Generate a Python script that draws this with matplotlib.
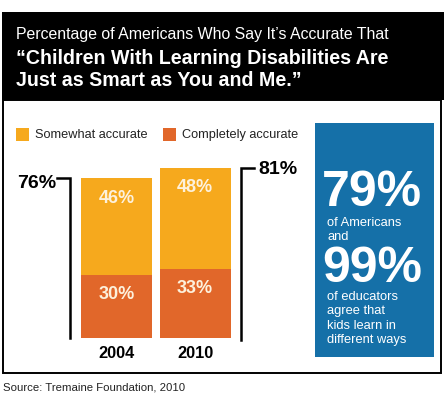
import matplotlib
matplotlib.use("Agg")
import matplotlib.pyplot as plt
from matplotlib.patches import Rectangle

plt.rcParams['font.family'] = ['Liberation Sans', 'DejaVu Sans']

# ---- data ----
years = ["2004", "2010"]
completely = [30, 33]
somewhat = [46, 48]
totals = [76, 81]
legend_labels = ["Somewhat accurate", "Completely accurate"]
title_line1 = "Percentage of Americans Who Say It\u2019s Accurate That"
title_line2 = "\u201cChildren With Learning Disabilities Are"
title_line3 = "Just as Smart as You and Me.\u201d"
stat_americans = "79%"
stat_educators = "99%"
source = "Source: Tremaine Foundation, 2010"

YELLOW = "#F6A91D"
ORANGE = "#E1672A"
BLUE = "#1570A8"
LABEL_WHITE = "#FDF1DC"

W, H, DPI = 446, 399, 100
fig = plt.figure(figsize=(W / DPI, H / DPI), dpi=DPI)

# overlay axes in pixel coordinates (y down)
ov = fig.add_axes([0, 0, 1, 1])
ov.set_xlim(0, W)
ov.set_ylim(H, 0)
ov.axis("off")

# header
ov.add_patch(Rectangle((2, 12), 442, 88, facecolor="black", edgecolor="none"))
ov.text(16, 35, title_line1, color="white", fontsize=11.4, va="center", ha="left")
ov.text(16, 58, title_line2, color="white", fontsize=14.1, fontweight="bold", va="center", ha="left")
ov.text(16, 80, title_line3, color="white", fontsize=14.1, fontweight="bold", va="center", ha="left")

# white frame
ov.add_patch(Rectangle((3, 100), 438, 273, facecolor="none", edgecolor="black", linewidth=1.4))

# legend
ov.add_patch(Rectangle((16, 128), 13, 13, facecolor=YELLOW, edgecolor="none"))
ov.text(35, 135, legend_labels[0], fontsize=9.2, va="center", ha="left", color="#222222")
ov.add_patch(Rectangle((163, 128), 13, 13, facecolor=ORANGE, edgecolor="none"))
ov.text(182, 135, legend_labels[1], fontsize=9.2, va="center", ha="left", color="#222222")

# blue box
ov.add_patch(Rectangle((315, 123), 119, 234, facecolor=BLUE, edgecolor="none"))
ov.text(322, 193, stat_americans, color="white", fontsize=36, fontweight="bold", va="center", ha="left")
ov.text(327, 223, "of Americans", color="white", fontsize=9.3, va="center", ha="left")
ov.text(327, 237, "and", color="white", fontsize=9.3, va="center", ha="left")
ov.text(322, 269, stat_educators, color="white", fontsize=36, fontweight="bold", va="center", ha="left")
for i, line in enumerate(["of educators", "agree that", "kids learn in", "different ways"]):
    ov.text(327, 297 + 14.3 * i, line, color="white", fontsize=9.3, va="center", ha="left")

ov.text(3, 387, source, fontsize=8.2, va="center", ha="left", color="#222222")

# bar axes: x from 40 to 280 px, y bottom at 338 px, 2.1 px per percent
px_left, px_right = 40, 280
bottom_px, scale = 338, 2.1
ymax = 90
top_px = bottom_px - scale * ymax
ax = fig.add_axes([px_left / W, 1 - bottom_px / H, (px_right - px_left) / W, (bottom_px - top_px) / H])
ax.set_ylim(0, ymax)
centers_px = [116.5, 195.0]
unit = centers_px[1] - centers_px[0]
ax.set_xlim((px_left - centers_px[0]) / unit, (px_right - centers_px[0]) / unit)
ax.axis("off")
x = list(range(len(years)))
bw = 71 / unit
ax.bar(x, completely, width=bw, color=ORANGE, linewidth=0)
ax.bar(x, somewhat, width=bw, bottom=completely, color=YELLOW, linewidth=0)
for i in x:
    ax.text(i, completely[i] - 9.5, f"{completely[i]}%", color=LABEL_WHITE, fontsize=13,
            fontweight="bold", ha="center", va="center")
    ax.text(i, completely[i] + somewhat[i] - 9.5, f"{somewhat[i]}%", color=LABEL_WHITE, fontsize=13,
            fontweight="bold", ha="center", va="center")
    ax.text(i, -7.3, years[i], fontsize=11.8, fontweight="bold", ha="center", va="center", clip_on=False)

def px2x(p):
    return (p - centers_px[0]) / unit

# left bracket (2004 total)
ax.plot([px2x(57), px2x(70), px2x(70)], [totals[0], totals[0], 0], color="black", lw=1.8,
        solid_joinstyle="miter", clip_on=False)
ax.text(px2x(56), totals[0] - 2.5, f"{totals[0]}%", fontsize=14, fontweight="bold", ha="right", va="center")
# right bracket (2010 total)
ax.plot([px2x(254), px2x(241), px2x(241)], [totals[1], totals[1], -1], color="black", lw=1.8,
        solid_joinstyle="miter", clip_on=False)
ax.text(px2x(258), totals[1] - 0.8, f"{totals[1]}%", fontsize=14, fontweight="bold", ha="left", va="center")

fig.savefig("out.png", dpi=DPI)
